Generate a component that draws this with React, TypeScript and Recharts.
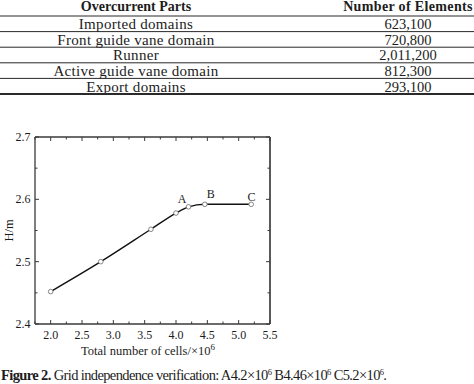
import React from 'react';
import { LineChart, Line, XAxis, YAxis, LabelList } from 'recharts';

// ---------- data ----------
const tableHeaders = ['Overcurrent Parts', 'Number of Elements'];
const partNames = [
  'Imported domains',
  'Front guide vane domain',
  'Runner',
  'Active guide vane domain',
  'Export domains',
];
const elementCounts = ['623,100', '720,800', '2,011,200', '812,300', '293,100'];

const cellCounts = [2.0, 2.8, 3.6, 4.0, 4.2, 4.46, 5.2];
const headValues = [2.452, 2.5, 2.552, 2.578, 2.588, 2.592, 2.592];
const pointTags = ['', '', '', '', 'A', 'B', 'C'];

const xTicks = [1.75, 2, 2.25, 2.5, 2.75, 3, 3.25, 3.5, 3.75, 4, 4.25, 4.5, 4.75, 5, 5.25, 5.5];
const xTickLabels = ['2.0', '2.5', '3.0', '3.5', '4.0', '4.5', '5.0', '5.5'];
const yTicks = [2.4, 2.45, 2.5, 2.55, 2.6, 2.65, 2.7];
const yTickLabels = ['2.4', '2.5', '2.6', '2.7'];

const xTitle = 'Total number of cells/×10';
const yTitle = 'H/m';
const captionParts = ['Grid independence verification: A4.2×10', ' B4.46×10', ' C5.2×10'];

const chartData = cellCounts.map((x, i) => ({ x, h: headValues[i], tag: pointTags[i] }));

// ---------- styles ----------
const FONT = '"Liberation Serif", "Times New Roman", serif';
const TEXT = '#1c1c1c';
const FRAME = '#3a3a3a';
const tagOffsets: Record<string, [number, number]> = { A: [-6.5, -4], B: [6, -6.3], C: [0.3, -3.3] };

const majorLabel = (v: number, labels: string[]) => {
  const s = v.toFixed(1);
  return labels.includes(s) && Math.abs(v - parseFloat(s)) < 1e-6 ? s : null;
};

const BottomTick = (p: any) => {
  const lab = majorLabel(p.payload.value, xTickLabels);
  return (
    <g>
      <line x1={p.x} x2={p.x} y1={p.y} y2={p.y - (lab ? 4 : 2.5)} stroke={FRAME} strokeWidth={1} />
      {lab && (
        <text x={p.x} y={p.y + 14.5} textAnchor="middle" fontSize={12} fontFamily={FONT} fill={TEXT}>
          {lab}
        </text>
      )}
    </g>
  );
};
const TopTick = (p: any) => {
  const lab = majorLabel(p.payload.value, xTickLabels);
  return <line x1={p.x} x2={p.x} y1={p.y} y2={p.y + (lab ? 4 : 2.5)} stroke={FRAME} strokeWidth={1} />;
};
const LeftTick = (p: any) => {
  const lab = majorLabel(p.payload.value, yTickLabels);
  return (
    <g>
      <line x1={p.x} x2={p.x + (lab ? 4 : 2.5)} y1={p.y} y2={p.y} stroke={FRAME} strokeWidth={1} />
      {lab && (
        <text x={p.x - 4.5} y={p.y + 4} textAnchor="end" fontSize={12} fontFamily={FONT} fill={TEXT}>
          {lab}
        </text>
      )}
    </g>
  );
};
const RightTick = (p: any) => {
  const lab = majorLabel(p.payload.value, yTickLabels);
  return <line x1={p.x} x2={p.x - (lab ? 4 : 2.5)} y1={p.y} y2={p.y} stroke={FRAME} strokeWidth={1} />;
};

const XTitle = (p: any) => {
  const vb = p.viewBox || {};
  return (
    <text x={vb.x + vb.width / 2 - 4.5} y={vb.y + 30.5} textAnchor="middle" fontSize={12.5} fontFamily={FONT} fill={TEXT}>
      <tspan>{xTitle}</tspan>
      <tspan dy={-5} fontSize={9}>6</tspan>
    </text>
  );
};
const YTitle = (p: any) => {
  const vb = p.viewBox || {};
  const cx = vb.x + 12.7;
  const cy = vb.y + vb.height / 2;
  return (
    <text x={cx} y={cy} transform={`rotate(-90, ${cx}, ${cy})`} textAnchor="middle" fontSize={12.5} fontFamily={FONT} fill={TEXT}>
      {yTitle}
    </text>
  );
};

const TagLabel = (p: any) => {
  const v = p.value;
  if (!v) return null;
  const off = tagOffsets[v] || [0, -5];
  const x = p.x ?? p.viewBox?.x;
  const y = p.y ?? p.viewBox?.y;
  return (
    <text x={x + off[0]} y={y + off[1]} textAnchor="middle" fontSize={12} fontFamily={FONT} fill={TEXT}>
      {v}
    </text>
  );
};

const ROW_TOP = 16;
const ROW_H = 15.6;

export default function App() {
  return (
    <div style={{ position: 'absolute', left: 0, top: 0, width: 474, height: 384, overflow: 'hidden', background: '#fff' }}>
      <LineChart
        width={474}
        height={384}
        data={chartData}
        margin={{ top: 136, right: 203, bottom: 0, left: 0 }}
        style={{ position: 'absolute', left: 0, top: 0 }}
      >
        <XAxis
          dataKey="x"
          type="number"
          domain={[1.75, 5.5]}
          ticks={xTicks}
          interval={0}
          height={60}
          tickSize={0}
          tickMargin={0}
          tickLine={false}
          tick={BottomTick}
          axisLine={{ stroke: FRAME, strokeWidth: 1.3 }}
          label={XTitle}
        />
        <XAxis
          xAxisId="top"
          dataKey="x"
          orientation="top"
          type="number"
          domain={[1.75, 5.5]}
          ticks={xTicks}
          interval={0}
          height={1}
          tickSize={0}
          tickMargin={0}
          tickLine={false}
          tick={TopTick}
          axisLine={{ stroke: FRAME, strokeWidth: 1.3 }}
        />
        <YAxis
          type="number"
          domain={[2.4, 2.7]}
          ticks={yTicks}
          interval={0}
          width={35}
          tickSize={0}
          tickMargin={0}
          tickLine={false}
          tick={LeftTick}
          axisLine={{ stroke: FRAME, strokeWidth: 1.3 }}
          label={YTitle}
        />
        <YAxis
          yAxisId="right"
          orientation="right"
          type="number"
          domain={[2.4, 2.7]}
          ticks={yTicks}
          interval={0}
          width={1}
          tickSize={0}
          tickMargin={0}
          tickLine={false}
          tick={RightTick}
          axisLine={{ stroke: '#5a5a5a', strokeWidth: 2 }}
        />
        <Line
          xAxisId="top"
          yAxisId="right"
          dataKey="h"
          stroke="none"
          dot={false}
          activeDot={false}
          legendType="none"
          isAnimationActive={false}
        />
        <Line
          dataKey="h"
          type="monotone"
          stroke="#111"
          strokeWidth={1.4}
          dot={{ r: 2.3, stroke: '#777', strokeWidth: 0.9, fill: '#fff' }}
          isAnimationActive={false}
        >
          <LabelList dataKey="tag" content={TagLabel} />
        </Line>
      </LineChart>

      <svg width={474} height={384} style={{ position: 'absolute', left: 0, top: 0, pointerEvents: 'none' }}>
        <g fontFamily={FONT} fill={TEXT}>
          <text x={136} y={10.5} textAnchor="middle" fontSize={14} fontWeight="bold">{tableHeaders[0]}</text>
          <text x={408} y={10.5} textAnchor="middle" fontSize={14} fontWeight="bold" letterSpacing={0.35}>{tableHeaders[1]}</text>
          {partNames.map((n, i) => (
            <text key={n} x={136} y={ROW_TOP + ROW_H * i + 13.2} textAnchor="middle" fontSize={15} letterSpacing={0.3}>{n}</text>
          ))}
          {elementCounts.map((n, i) => (
            <text key={n} x={408} y={ROW_TOP + ROW_H * i + 13.2} textAnchor="middle" fontSize={14.5}>{n}</text>
          ))}
        </g>
        {partNames.map((n, i) => (
          <rect key={'l' + i} x={0} y={ROW_TOP + ROW_H * i - 0.5} width={474} height={1} fill="#2a2a2a" />
        ))}
        <rect x={0} y={ROW_TOP + ROW_H * partNames.length - 1} width={474} height={2} fill="#2a2a2a" />

        <text x={1} y={379.5} fontSize={14.5} fontFamily={FONT} fill={TEXT} textLength={386} lengthAdjust="spacing">
          <tspan fontWeight="bold">Figure 2.</tspan>
          <tspan> {captionParts[0]}</tspan>
          <tspan dy={-5} fontSize={8.5}>6</tspan>
          <tspan dy={5}>{captionParts[1]}</tspan>
          <tspan dy={-5} fontSize={8.5}>6</tspan>
          <tspan dy={5}>{captionParts[2]}</tspan>
          <tspan dy={-5} fontSize={8.5}>6</tspan>
          <tspan dy={5}>.</tspan>
        </text>
      </svg>
    </div>
  );
}
